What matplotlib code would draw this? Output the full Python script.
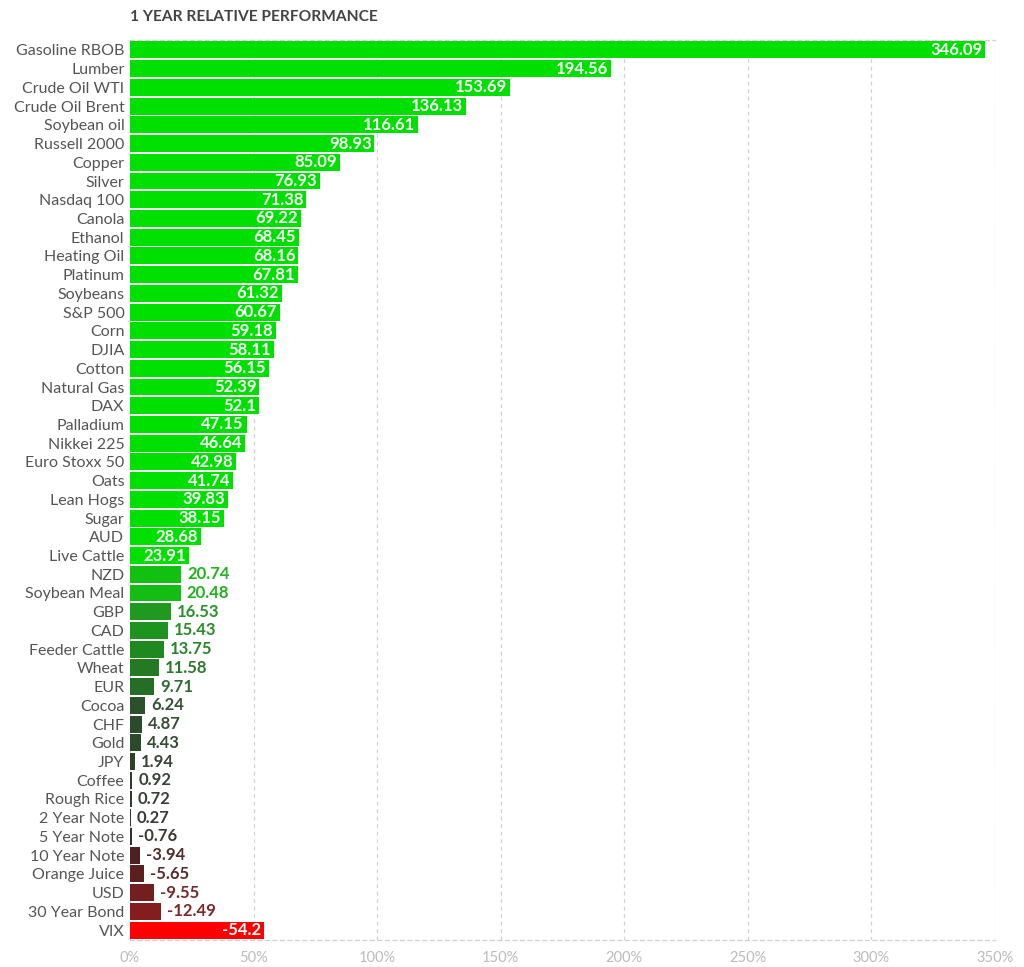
import numpy as np
import matplotlib
matplotlib.use("Agg")
import matplotlib.pyplot as plt
from matplotlib.colors import to_rgb

plt.rcParams["font.family"] = ["Lato", "DejaVu Sans"]

# ---- data (1 year relative performance, %)
names = [
    "Gasoline RBOB", "Lumber", "Crude Oil WTI", "Crude Oil Brent", "Soybean oil",
    "Russell 2000", "Copper", "Silver", "Nasdaq 100", "Canola", "Ethanol",
    "Heating Oil", "Platinum", "Soybeans", "S&P 500", "Corn", "DJIA", "Cotton",
    "Natural Gas", "DAX", "Palladium", "Nikkei 225", "Euro Stoxx 50", "Oats",
    "Lean Hogs", "Sugar", "AUD", "Live Cattle", "NZD", "Soybean Meal", "GBP",
    "CAD", "Feeder Cattle", "Wheat", "EUR", "Cocoa", "CHF", "Gold", "JPY",
    "Coffee", "Rough Rice", "2 Year Note", "5 Year Note", "10 Year Note",
    "Orange Juice", "USD", "30 Year Bond", "VIX",
]
values = [
    346.09, 194.56, 153.69, 136.13, 116.61, 98.93, 85.09, 76.93, 71.38, 69.22,
    68.45, 68.16, 67.81, 61.32, 60.67, 59.18, 58.11, 56.15, 52.39, 52.1, 47.15,
    46.64, 42.98, 41.74, 39.83, 38.15, 28.68, 23.91, 20.74, 20.48, 16.53, 15.43,
    13.75, 11.58, 9.71, 6.24, 4.87, 4.43, 1.94, 0.92, 0.72, 0.27, -0.76, -3.94,
    -5.65, -9.55, -12.49, -54.2,
]
xticks = [0, 50, 100, 150, 200, 250, 300, 350]

# ---- colour scale: value -> shade (dark near 0, bright green/red at extremes)
pos_stops = [0, 3, 6, 10, 14, 19, 23]
pos_cols = ["#333333", "#2c452c", "#2a4f2a", "#257025", "#1f8a1f", "#20a820", "#00e000"]
neg_stops = [0, 3, 6, 10, 13, 30]
neg_cols = ["#333333", "#4a2222", "#5c2020", "#771f1f", "#871d1d", "#ff0000"]


def shade(v):
    stops, cols = (pos_stops, pos_cols) if v >= 0 else (neg_stops, neg_cols)
    rgb = np.array([to_rgb(c) for c in cols])
    return tuple(np.interp(abs(v), stops, rgb[:, k]) for k in range(3))


fig = plt.figure(figsize=(10.24, 9.67), dpi=100)
ax = fig.add_axes([130 / 1024, 1 - 940 / 967, 865 / 1024, 900 / 967])

y = np.arange(len(names))
colors = [shade(v) for v in values]
ax.barh(y, np.abs(values), height=0.9, color=colors, zorder=3)

# value labels: inside the bar when it is wide enough, else just past its end
for yi, v, c in zip(y, values, colors):
    if abs(v) >= 23:
        ax.text(abs(v) - 1.2, yi, f"{v}", ha="right", va="center", color="white",
                fontsize=12, fontweight="bold", zorder=4)
    else:
        tc = tuple(0.85 * ch + 0.15 * 0.4 for ch in c)
        ax.text(abs(v) + 2.5, yi, f"{v}", ha="left", va="center", color=tc,
                fontsize=12, fontweight="bold", zorder=4)

ax.set_ylim(len(names) - 0.47, -0.53)
ax.set_xlim(0, 350)
ax.set_yticks(y)
ax.set_yticklabels(names, fontsize=11.5, color="#555555")
ax.set_xticks(xticks)
ax.set_xticklabels([f"{t}%" for t in xticks], fontsize=10.5, color="#bbbbbb")
ax.tick_params(length=0, pad=4)
ax.tick_params(axis="x", pad=8)

ax.grid(axis="x", color="#d0d0d0", linestyle=(0, (3, 3)), linewidth=0.9, zorder=0)
for side in ("top", "bottom"):
    ax.spines[side].set_color("#d0d0d0")
    ax.spines[side].set_linestyle((0, (3, 3)))
    ax.spines[side].set_linewidth(0.9)
ax.spines["left"].set_visible(False)
ax.spines["right"].set_visible(False)

fig.text(130 / 1024, 1 - 17 / 967, "1 YEAR RELATIVE PERFORMANCE", ha="left", va="center",
         fontsize=11.2, fontweight="bold", color="#444444")

fig.savefig("out.png", dpi=100)
